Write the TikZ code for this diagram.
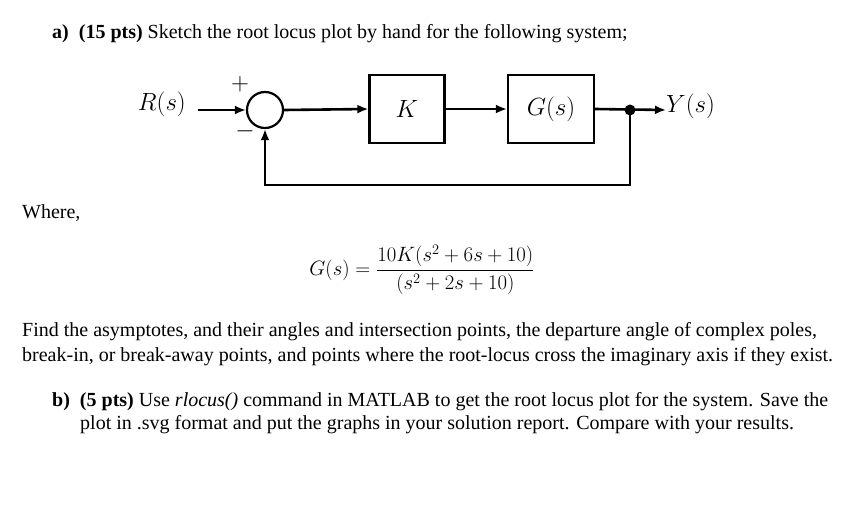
\documentclass[tikz,border=0pt]{standalone}
\usepackage{amsmath}
\usepackage{fontspec}
\setmainfont{Liberation Serif}
\usetikzlibrary{arrows.meta}
\begin{document}
\begin{tikzpicture}[x=1pt,y=-1pt,
  txt/.style={anchor=base west,inner sep=0pt,font=\fontsize{20}{24}\selectfont},
  blk/.style={draw,line width=2.2pt,minimum width=75pt,minimum height=68pt,inner sep=0pt,font=\fontsize{28}{32}\selectfont},
  sig/.style={inner sep=0pt,font=\fontsize{26}{30}\selectfont},
  ln/.style={line width=2.6pt},
  arr/.style={ln,-{Latex[length=11pt,width=9pt]}}]
\useasboundingbox (0,0) rectangle (865,530);
\node[txt] (ta) at (52,38) {\textbf{a)\ \ (15 pts)} Sketch the root locus plot by hand for the following system;};
\node[sig,anchor=east] (R) at (186,104) {$R(s)$};
\node[draw,circle,line width=2.2pt,minimum size=36pt,inner sep=0pt] (S) at (265,110) {};
\node[blk] (K) at (407,109) {$K$};
\node[blk,minimum width=86pt] (G) at (551,109) {$G(s)$};
\node[sig,anchor=west] (Y) at (666,106) {$Y(s)$};
\node[font=\fontsize{24}{24}\selectfont] (p) at (240,84) {$+$};
\node[font=\fontsize{24}{24}\selectfont] (m) at (245,131) {$-$};
\coordinate (d) at (630,110);
\coordinate (fb) at (630,185);
\coordinate (fs) at (265,185);
\coordinate (rs) at (198,110);
\draw[arr] (rs) -- (S.west);
\draw[arr] (S.east) -- (K.west);
\draw[arr] (K.east) -- (G.west);
\draw[arr] (G.east) -- (Y.west |- d);
\fill (d) circle (5.5pt);
\draw[arr] (d) -- (fb) -- (fs) -- (S.south);
\node[txt] (w) at (22,218) {Where,};
\node[inner sep=0pt,font=\fontsize{21}{25}\selectfont] (eq) at (422,270) {$G(s)=\dfrac{10K(s^2+6s+10)}{(s^2+2s+10)}$};
\node[txt] (l1) at (22,336) {Find the asymptotes, and their angles and intersection points, the departure angle of complex poles,};
\node[txt] (l2) at (22,361) {break-in, or break-away points, and points where the root-locus cross the imaginary axis if they exist.};
\node[txt] (b1) at (52,406) {\textbf{b)\ \ (5 pts)} Use \textit{rlocus()} command in MATLAB to get the root locus plot for the system. Save the};
\node[txt] (b2) at (80,429) {plot in .svg format and put the graphs in your solution report. Compare with your results.};
\end{tikzpicture}
\end{document}
